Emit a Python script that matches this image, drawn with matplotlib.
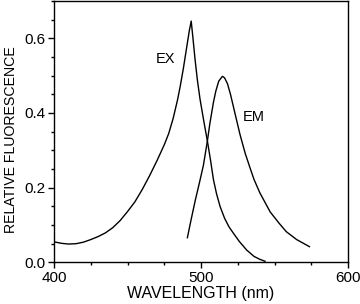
import matplotlib
matplotlib.use("Agg")
import matplotlib.pyplot as plt
from matplotlib.ticker import MultipleLocator, FormatStrFormatter

plt.rcParams['font.family'] = ['Liberation Sans', 'DejaVu Sans']

ex_wl = [400, 405, 410, 415, 420, 425, 430, 435, 440, 445, 450, 455, 460, 465,
         470, 475, 478, 481, 484, 486, 488, 490, 492, 493.3, 494.5, 495.9, 497.5,
         499.3, 502, 504.3, 506.5, 508.4, 510.5, 512.9, 516, 519, 522, 526, 531,
         536, 540, 543.5]
ex_val = [0.055, 0.051, 0.049, 0.050, 0.054, 0.061, 0.069, 0.079, 0.093, 0.112,
          0.136, 0.162, 0.195, 0.232, 0.272, 0.315, 0.345, 0.385, 0.435, 0.475,
          0.520, 0.570, 0.620, 0.646, 0.600, 0.544, 0.488, 0.437, 0.375, 0.325,
          0.272, 0.222, 0.184, 0.150, 0.118, 0.095, 0.078, 0.056, 0.033, 0.016,
          0.008, 0.003]

em_wl = [490.7, 493, 496, 499, 501.6, 504.3, 506, 508.4, 510, 512, 514.5, 516,
         518, 520, 523, 526.5, 530, 533.3, 536, 540, 547, 553, 558, 565, 573.7]
em_val = [0.066, 0.110, 0.165, 0.215, 0.260, 0.325, 0.372, 0.428, 0.458, 0.485,
          0.498, 0.494, 0.478, 0.450, 0.400, 0.342, 0.292, 0.253, 0.222, 0.186,
          0.135, 0.105, 0.082, 0.061, 0.042]

fig = plt.figure(figsize=(3.6, 3.04), dpi=100)
ax = fig.add_axes([0.15, 0.137, 0.817, 0.86])
ax.plot(ex_wl, ex_val, color='black', lw=1.0)
ax.plot(em_wl, em_val, color='black', lw=1.0)
ax.set_xlim(400, 600)
ax.set_ylim(0, 0.7)
ax.xaxis.set_major_locator(MultipleLocator(100))
ax.xaxis.set_minor_locator(MultipleLocator(25))
ax.yaxis.set_major_locator(MultipleLocator(0.2))
ax.yaxis.set_minor_locator(MultipleLocator(0.05))
ax.yaxis.set_major_formatter(FormatStrFormatter('%.1f'))
ax.tick_params(which='major', direction='out', length=4, width=1, labelsize=11, pad=2)
ax.tick_params(which='minor', direction='out', length=2, width=1)
for s in ax.spines.values():
    s.set_linewidth(1.0)
ax.set_xlabel('WAVELENGTH (nm)', fontsize=11.5, labelpad=1)
ax.set_ylabel('RELATIVE FLUORESCENCE', fontsize=10.2, labelpad=5)
ax.yaxis.label.set_y(0.468)
ax.text(475.5, 0.545, 'EX', fontsize=10.5, ha='center', va='center')
ax.text(536, 0.39, 'EM', fontsize=10.5, ha='center', va='center')
fig.savefig('out.png', dpi=100)
